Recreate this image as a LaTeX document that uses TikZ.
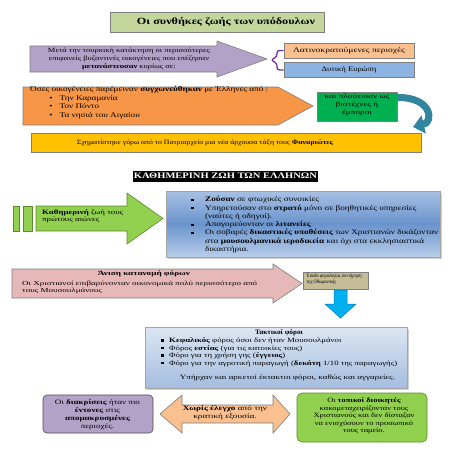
\documentclass[tikz,border=0pt]{standalone}
\usepackage{fontspec}
\usepackage{graphicx}
\setmainfont{Liberation Serif}
\usetikzlibrary{arrows.meta,calc,shadows}
\definecolor{titlegreen}{HTML}{C3D69B}
\definecolor{lav}{HTML}{B3A2C7}
\definecolor{peach}{HTML}{FAC090}
\definecolor{skyb}{HTML}{8DB3E2}
\definecolor{orng}{HTML}{F79646}
\definecolor{grn}{HTML}{00B050}
\definecolor{teal2}{HTML}{31859C}
\definecolor{yel}{HTML}{FFC000}
\definecolor{lgrn}{HTML}{92D050}
\definecolor{pinkk}{HTML}{E6B9B8}
\definecolor{olive2}{HTML}{C4BD97}
\definecolor{cyan2}{HTML}{00B0F0}
\definecolor{brd}{HTML}{7F7F7F}
\definecolor{purp}{HTML}{7030A0}
\definecolor{dgrn}{HTML}{5E8A2E}
\definecolor{btop}{HTML}{A7C0E3}
\definecolor{bmid}{HTML}{6A94CD}
\definecolor{bbot}{HTML}{B9CEEA}
\definecolor{ttop}{HTML}{DCE6F2}
\definecolor{tbot}{HTML}{A4BDE0}
\newcommand{\mysqb}{\raisebox{0.9pt}{\rule{2.2pt}{2.2pt}}}
\newcommand{\fs}[2]{\fontsize{#1}{#2}\selectfont}
% #1 target width (pt), #2 column spec, #3 lines
\newcommand{\fitbox}[3]{\resizebox*{#1pt}{\totalheight}{\begin{tabular}{@{}#2@{}}#3\end{tabular}}}
\begin{document}
\begin{tikzpicture}[x=1pt,y=-1pt,
  txt/.style={inner sep=0pt},
  box/.style={draw=brd, line width=0.6pt, inner sep=0pt},
  shp/.style={draw=brd, line width=0.6pt, line join=miter}]
\useasboundingbox[fill=white] (0,0) rectangle (452,452);

% title
\node[box, fill=titlegreen, minimum width=214, minimum height=20] (title) at (217,22) {};
\node[txt, font=\fs{9.5}{10}\bfseries] (titlet) at (226,22) {\fitbox{178}{c}{Οι συνθήκες ζωής των υπόδουλων}};

% purple arrow
\draw[shp, fill=lav] (30,46) -- (217,46) -- (217,41) -- (267,59) -- (217,77) -- (217,72) -- (30,72) -- cycle;
\node[txt, font=\fs{6.4}{7.5}] (mig) at (129,59) {\fitbox{162}{c}{Μετά την τουρκική κατάκτηση οι περισσότερες\\επιφανείς βυζαντινές οικογένειες που επέζησαν\\\textbf{μετανάστευσαν} κυρίως σε:}};

% two target boxes
\node[box, fill=peach, minimum width=130, minimum height=15] (latin) at (349,50.5) {};
\node[txt, font=\fs{7}{8}] (latint) at (349,50.5) {\fitbox{112}{c}{Λατινοκρατούμενες περιοχές}};
\node[box, fill=skyb, minimum width=130, minimum height=15] (dyt) at (349,70) {};
\node[txt, font=\fs{7}{8}] (dytt) at (349,70) {\fitbox{55}{c}{Δυτική Ευρώπη}};
\draw[purp, line width=1.3pt, rounded corners=2.5pt] (latin.west) -- (277,50.5) -- (277,56.5) -- (271,60) -- (277,63.5) -- (277,70) -- (dyt.west);

% orange pentagon
\draw[shp, fill=orng] (23,87) -- (278,87) -- (313,106) -- (278,125) -- (23,125) -- cycle;
\node[txt, anchor=west, font=\fs{7.2}{8.5}] (syg) at (30,103) {\fitbox{238}{l}{Όσες οικογένειες παρέμειναν \textbf{συγχωνεύθηκαν} με Έλληνες από :\\
\hspace*{15pt}\makebox[8pt][l]{\textbullet}Την Καραμανία\\
\hspace*{15pt}\makebox[8pt][l]{\textbullet}Τον Πόντο\\
\hspace*{15pt}\makebox[8pt][l]{\textbullet}Τα νησιά του Αιγαίου}};

% green box + curved arrow
\node[box, fill=grn, minimum width=80, minimum height=29] (plout) at (357,106.5) {};
\node[txt, font=\fs{6.6}{7.6}] (ploutt) at (357,105) {\fitbox{65}{c}{και πλούτισαν ως\\βιοτέχνες ή\\έμποροι}};
\coordinate (cend) at (413,127);
\draw[teal2, line width=7pt, -{Triangle[width=18pt,length=11pt]}] ($(plout.east)+(0,-9)$) .. controls (432,97) and (434,122) .. (cend);

% yellow box
\node[box, fill=yel, minimum width=390, minimum height=19] (fan) at (226,142.5) {};
\node[txt, font=\fs{6.5}{7.5}] (fant) at (205,142.5) {\fitbox{256}{c}{Σχηματίστηκε γύρω από το Πατριαρχείο μια νέα άρχουσα τάξη τους \textbf{Φαναριώτες}}};

% heading
\node[fill=black, text=white, inner xsep=1pt, inner ysep=0.6pt, font=\fs{8.4}{9}\bfseries] (kath) at (225.5,176.5) {\fitbox{183}{c}{ΚΑΘΗΜΕΡΙΝΗ ΖΩΗ ΤΩΝ ΕΛΛΗΝΩΝ}};

% striped green arrow
\draw[draw=dgrn, line width=0.6pt, fill=lgrn] (13,206) rectangle (19,231);
\draw[draw=dgrn, line width=0.6pt, fill=lgrn] (23,206) rectangle (32,231);
\draw[draw=dgrn, line width=0.6pt, fill=lgrn, line join=miter] (36,206) -- (127,206) -- (127,193) -- (163,218.5) -- (127,244) -- (127,231) -- (36,231) -- cycle;
\node[txt, anchor=west, font=\fs{6.6}{7.5}] (kathz) at (42,216.5) {\fitbox{81}{l}{\textbf{Καθημερινή} ζωή τους\\πρώτους αιώνες}};

% blue gradient box
\node[draw=brd!70, line width=0.4pt, minimum width=274, minimum height=66, top color=btop, bottom color=bbot, middle color=bmid,
  drop shadow={shadow xshift=1.5pt, shadow yshift=-1.5pt, opacity=0.35}] (daily) at (303,224) {};
\node[txt, anchor=west, font=\fs{7.2}{8.3}] (dlist) at (191,225) {\fitbox{247}{l}{\makebox[11pt][l]{\mysqb}\textbf{Ζούσαν} σε φτωχικές συνοικίες\\
\makebox[11pt][l]{\mysqb}Υπηρετούσαν στο \textbf{στρατό} μόνο σε βοηθητικές υπηρεσίες\\
\hspace*{11pt}(ναύτες ή οδηγοί).\\
\makebox[11pt][l]{\mysqb}Απαγορεύονταν οι \textbf{λιτανείες}\\
\makebox[11pt][l]{\mysqb}Οι σοβαρές \textbf{δικαστικές υποθέσεις} των Χριστιανών δικάζονταν\\
\hspace*{11pt}στα \textbf{μουσουλμανικά ιεροδικεία} και όχι στα εκκλησιαστικά\\
\hspace*{11pt}δικαστήρια.}};

% pink arrow
\draw[shp, fill=pinkk] (12,269) -- (273,269) -- (273,264) -- (302,283.5) -- (273,303) -- (273,298) -- (12,298) -- cycle;
\node[txt, font=\fs{6.4}{7.5}\bfseries] (anisi) at (144,274) {\fitbox{92}{c}{Άνιση κατανομή φόρων}};
\node[txt, anchor=west, font=\fs{6.2}{7}] (xrist) at (22,288) {\fitbox{235}{l}{Οι Χριστιανοί επιβαρύνονταν οικονομικά πολύ περισσότερο από\\τους Μουσουλμάνους}};

% olive box
\node[box, fill=olive2, minimum width=65, minimum height=17] (esoda) at (335.5,280.5) {};
\node[txt, anchor=west, font=\fs{5.2}{6}] (esodat) at (306.5,279.5) {\fitbox{55}{l}{Έσοδα φορολογίας συντήρηση\\της Οθωμανικής}};

% down arrow
\draw[draw=cyan2!70!black, line width=0.5pt, fill=cyan2, line join=miter] (334,290) -- (347,290) -- (347,304) -- (356,304) -- (340.5,318) -- (325,304) -- (334,304) -- cycle;

% tactical taxes box
\node[draw=brd!70, line width=0.4pt, minimum width=262, minimum height=61, top color=ttop, bottom color=tbot,
  drop shadow={shadow xshift=1.5pt, shadow yshift=-1.5pt, opacity=0.35}] (takt) at (276,357.5) {};
\node[txt, font=\fs{6.8}{8}\bfseries] (takth) at (279,333) {\fitbox{48}{c}{Τακτικοί φόροι}};
\node[txt, anchor=west, font=\fs{6.6}{7.5}] (tlist) at (161,352.3) {\fitbox{236}{l}{\makebox[6pt][l]{\mysqb}\textbf{Κεφαλικός} φόρος όσοι δεν ήταν Μουσουλμάνοι\\
\makebox[6pt][l]{\mysqb}Φόρος \textbf{εστίας} (για τις κατοικίες τους)\\
\makebox[6pt][l]{\mysqb}Φόρο για τη χρήση γης (\textbf{έγγειος})\\
\makebox[6pt][l]{\mysqb}Φόρο για την αγροτική παραγωγή (\textbf{δεκάτη} 1/10 της παραγωγής)}};
\node[txt, font=\fs{6.6}{8}] (ekt) at (287.5,378) {\fitbox{215}{c}{Υπήρχαν και αρκετοί έκτακτοι φόροι, καθώς και αγγαρείες.}};

% bottom row
\node[box, draw=brd!60!black, rounded corners=4pt, fill=lav, minimum width=110, minimum height=38] (diak) at (98,414) {};
\node[txt, font=\fs{6.8}{8}] (diakt) at (97.5,415) {\fitbox{85}{c}{Οι \textbf{διακρίσεις} ήταν πιο\\\textbf{έντονες} στις\\\textbf{απομακρυσμένες}\\περιοχές.}};
\draw[shp, fill=peach] (160,414) -- (182,395) -- (182,405) -- (273,405) -- (273,395) -- (290,414) -- (273,433) -- (273,423) -- (182,423) -- (182,433) -- cycle;
\node[txt, font=\fs{6.8}{8}] (xoris) at (225,413) {\fitbox{84}{c}{\textbf{Χωρίς έλεγχο} από την\\κρατική εξουσία.}};
\node[box, draw=dgrn, rounded corners=5pt, fill=lgrn, minimum width=130, minimum height=49] (topik) at (362,417.5) {};
\node[txt, font=\fs{6.6}{7.5}] (topikt) at (364,416) {\fitbox{101}{c}{Οι \textbf{τοπικοί διοικητές}\\κακομεταχειρίζονταν τους\\Χριστιανούς και δεν δίσταζαν\\να ενισχύσουν το προσωπικό\\τους ταμείο.}};
\end{tikzpicture}
\end{document}
